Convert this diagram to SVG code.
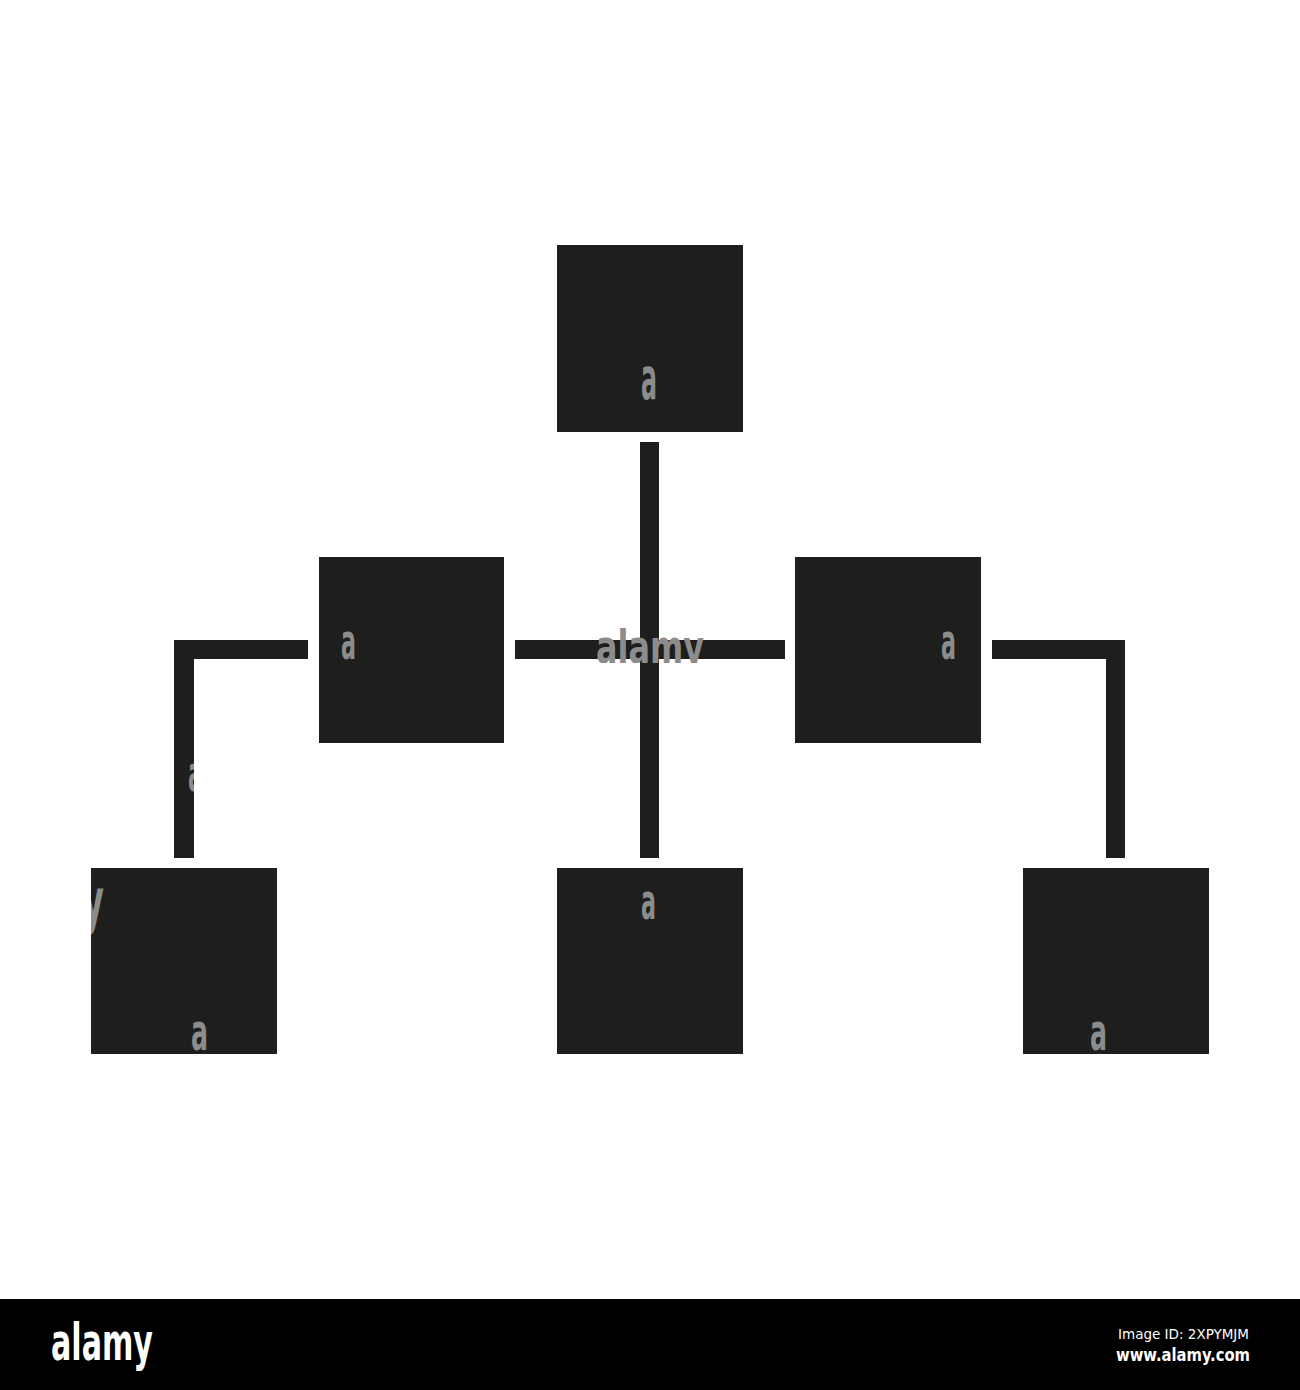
<svg xmlns="http://www.w3.org/2000/svg" width="1300" height="1390" viewBox="0 0 1300 1390">
<style>
.box{fill:#1e1e1c}
.ln{fill:#1e1e1c}
.wm{fill:#8c8c8c;font-family:"Liberation Sans Narrow","DejaVu Sans Condensed","Liberation Sans",sans-serif;font-weight:bold}
.logo{fill:#ffffff;font-family:"Liberation Sans Narrow","DejaVu Sans Condensed","Liberation Sans",sans-serif;font-weight:bold}
.info{fill:#ffffff;font-family:"DejaVu Sans Condensed","Liberation Sans Narrow","Liberation Sans",sans-serif}
</style>
<defs>
<clipPath id="shapes">
<rect x="557" y="245" width="186" height="187"/>
<rect x="319" y="557" width="185" height="186"/>
<rect x="795" y="557" width="186" height="186"/>
<rect x="91" y="868" width="186" height="186"/>
<rect x="557" y="868" width="186" height="186"/>
<rect x="1023" y="868" width="186" height="186"/>
<rect x="174" y="640" width="20" height="218"/>
</clipPath>
<clipPath id="band"><rect x="590" y="628" width="120" height="35"/></clipPath>
</defs>
<rect x="0" y="0" width="1300" height="1390" fill="#ffffff"/>
<g id="connectors">
<rect class="ln" x="640" y="442" width="19" height="416"/>
<rect class="ln" x="515" y="640" width="270" height="19"/>
<path class="ln" d="M174 640 H308 V659 H194 V858 H174 Z"/>
<path class="ln" d="M1125 640 H992 V659 H1106 V858 H1125 Z"/>
</g>
<g id="node-top"><rect class="box" x="557" y="245" width="186" height="187"/></g>
<g id="node-mid-left"><rect class="box" x="319" y="557" width="185" height="186"/></g>
<g id="node-mid-right"><rect class="box" x="795" y="557" width="186" height="186"/></g>
<g id="node-bottom-left"><rect class="box" x="91" y="868" width="186" height="186"/></g>
<g id="node-bottom-center"><rect class="box" x="557" y="868" width="186" height="186"/></g>
<g id="node-bottom-right"><rect class="box" x="1023" y="868" width="186" height="186"/></g>
<g id="watermark">
<text class="wm" x="641" y="399" font-size="58" textLength="16" lengthAdjust="spacingAndGlyphs">a</text>
<text class="wm" x="341" y="659" font-size="50" textLength="15" lengthAdjust="spacingAndGlyphs">a</text>
<text class="wm" x="941" y="659" font-size="50" textLength="15" lengthAdjust="spacingAndGlyphs">a</text>
<text class="wm" x="641" y="919" font-size="50" textLength="15" lengthAdjust="spacingAndGlyphs">a</text>
<text class="wm" x="191" y="1050" font-size="52" textLength="17" lengthAdjust="spacingAndGlyphs">a</text>
<text class="wm" x="1090" y="1050" font-size="52" textLength="17" lengthAdjust="spacingAndGlyphs">a</text>
<g clip-path="url(#band)"><text class="wm" x="596" y="663" font-size="47" textLength="108" lengthAdjust="spacingAndGlyphs">alamy</text></g>
<g clip-path="url(#shapes)">
<text class="wm" x="82" y="922" font-size="60" textLength="22" lengthAdjust="spacingAndGlyphs">y</text>
<text class="wm" x="188" y="791" font-size="50" textLength="15" lengthAdjust="spacingAndGlyphs">a</text>
</g>
</g>
<g id="footer">
<rect x="0" y="1299" width="1300" height="91" fill="#000000"/>
<text class="logo" x="51" y="1360" font-size="52" textLength="102" lengthAdjust="spacingAndGlyphs">alamy</text>
<text class="info" x="1249" y="1339" font-size="14" text-anchor="end" textLength="131" lengthAdjust="spacingAndGlyphs">Image ID: 2XPYMJM</text>
<text class="info" x="1250" y="1361" font-size="17" text-anchor="end" font-weight="bold" textLength="134" lengthAdjust="spacingAndGlyphs">www.alamy.com</text>
</g>
</svg>
